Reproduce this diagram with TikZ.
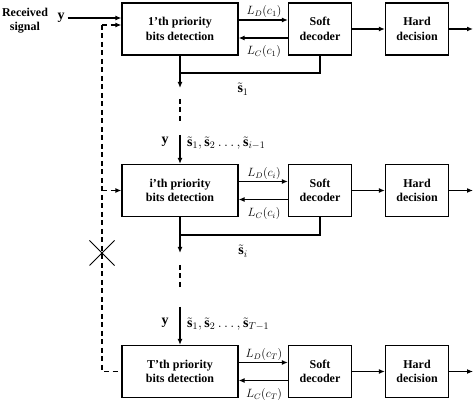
\documentclass[tikz,border=0pt]{standalone}
\usepackage{fontspec}
\setmainfont{Liberation Serif}
\usetikzlibrary{arrows.meta,shapes.misc}

\begin{document}
\begin{tikzpicture}[x=1pt, y=-1pt,
    det/.style={rectangle, draw=black, line width=1.2pt, minimum width=116pt,
              minimum height=52pt, inner sep=0pt, align=center,
              font=\bfseries\fontsize{12}{14.5}\selectfont},
    blk/.style={det, minimum width=63pt},
    ln/.style={draw=black, line width=1.2pt},
    arr/.style={ln, -{Latex[length=6pt,width=5pt]}},
    dsh/.style={draw=black, line width=1.2pt, dash pattern=on 5pt off 3.5pt},
    lab/.style={font=\fontsize{12}{14}\selectfont, inner sep=0pt},
    big/.style={font=\fontsize{14}{16}\selectfont, inner sep=0pt}]
  \useasboundingbox (0,0) rectangle (474,403);

  % ---------- three detection stages ---------------------------------------
  \foreach \r/\yc/\nm/\k in {1/29/1'th/1, 2/190.5/i'th/i, 3/371.5/T'th/T} {
    \node[det] (det\r) at (180,\yc) {\nm\ priority\\bits detection};
    \node[blk] (soft\r) at (320,\yc) {Soft\\decoder};
    \node[blk] (hard\r) at (417,\yc) {Hard\\decision};
    \coordinate (out\r) at (473,\yc);
    \draw[arr] ([yshift=9pt]det\r.east) -- ([yshift=9pt]soft\r.west);
    \draw[arr] ([yshift=-9pt]soft\r.west) -- ([yshift=-9pt]det\r.east);
    \draw[arr] (soft\r.east) -- (hard\r.west);
    \draw[arr] (hard\r.east) -- (out\r);
    \node[lab] (ld\r) at (264,\yc-17) {$L_D(c_\k)$};
    \node[lab] (lc\r) at (264,\yc+23) {$L_C(c_\k)$};
  }

  % ---------- received signal ----------------------------------------------
  \node[font=\bfseries\fontsize{12}{14}\selectfont, align=center, inner sep=0pt]
    (rx) at (25,21) {Received\\signal};
  \node[big] (y1) at (61,18) {$\mathbf{y}$};
  \draw[arr] ([xshift=3pt]y1.east) -- ([yshift=11pt]det1.west);

  % ---------- dashed bus on the left ---------------------------------------
  \coordinate (bus) at (102,25);
  \draw[dsh, -{Latex[length=6pt,width=5pt]}] (bus) -- (det1.west |- bus);
  \draw[dsh] (bus) |- (det3.west);
  \draw[dsh, -{Latex[length=6pt,width=5pt]}] (det2.west -| bus) -- (det2.west);
  \node[cross out, draw=black, line width=1pt, minimum size=24pt, inner sep=0pt]
    (cut) at (102,253) {};

  % ---------- stage 1 -> stage 2 -------------------------------------------
  \coordinate (fb1) at (180,73);
  \coordinate (s1) at (180,88);
  \draw[arr] (det1.south) -- (s1);
  \draw[ln] (soft1.south) |- (fb1);
  \node[big] (st1) at (243,89) {$\tilde{\mathbf{s}}_1$};
  \coordinate (g1a) at (180,99);  \coordinate (g1b) at (180,124);
  \draw[dsh] (g1a) -- (g1b);
  \coordinate (in2) at (180,135);
  \draw[arr] (in2) -- (det2.north);
  \node[big] (y2) at (165,142) {$\mathbf{y}$};
  \node[big, anchor=west] (sp2) at (187,143)
    {$\tilde{\mathbf{s}}_1,\tilde{\mathbf{s}}_2\ldots,\tilde{\mathbf{s}}_{i-1}$};

  % ---------- stage 2 -> stage T -------------------------------------------
  \coordinate (fb2) at (180,235);
  \coordinate (s2) at (180,253);
  \draw[arr] (det2.south) -- (s2);
  \draw[ln] (soft2.south) |- (fb2);
  \node[big] (st2) at (243,251) {$\tilde{\mathbf{s}}_i$};
  \coordinate (g2a) at (180,265);  \coordinate (g2b) at (180,290);
  \draw[dsh] (g2a) -- (g2b);
  \coordinate (in3) at (180,307);
  \draw[arr] (in3) -- (det3.north);
  \node[big] (y3) at (165,323) {$\mathbf{y}$};
  \node[big, anchor=west] (sp3) at (187,324)
    {$\tilde{\mathbf{s}}_1,\tilde{\mathbf{s}}_2\ldots,\tilde{\mathbf{s}}_{T-1}$};
\end{tikzpicture}
\end{document}
